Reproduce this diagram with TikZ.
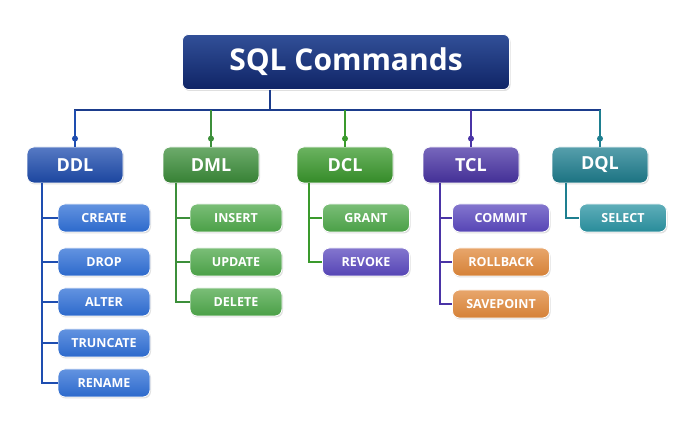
\documentclass[tikz,border=0pt]{standalone}
\usepackage{fontspec}
\setmainfont{Open Sans}
\usetikzlibrary{shadows}
\definecolor{navy}{HTML}{1B3C8C}
\definecolor{navyd}{HTML}{0F2466}
\definecolor{ddlc}{HTML}{1E4DB0}
\definecolor{ddlk}{HTML}{2F6FD6}
\definecolor{dmlc}{HTML}{3C8F3A}
\definecolor{dmlk}{HTML}{4EA84A}
\definecolor{dclc}{HTML}{3A9A2C}
\definecolor{tclc}{HTML}{4A34A6}
\definecolor{tclk}{HTML}{5A48BE}
\definecolor{orng}{HTML}{E0883A}
\definecolor{dqlc}{HTML}{1E7F90}
\definecolor{dqlk}{HTML}{2A93A2}
\tikzset{
 box/.style={rounded corners=7pt, draw=white, line width=0.8pt, text=white, font=\bfseries, inner sep=0pt, drop shadow={opacity=0.25,shadow xshift=1pt,shadow yshift=-1.5pt}},
 cat/.style n args={1}{box, minimum width=96pt, minimum height=36pt, font=\bfseries\fontsize{18}{18}\selectfont, top color=#1!75!white, bottom color=#1!90!black},
 kid/.style n args={1}{box, minimum width=92pt, minimum height=28pt, font=\bfseries\fontsize{12.5}{12.5}\selectfont, top color=#1!75!white, bottom color=#1!95!black},
 lnk/.style={line width=1.1pt, draw=#1},
 dot/.style={circle, fill=#1, inner sep=0pt, minimum size=6pt}
}
\begin{document}
\begin{tikzpicture}[x=1pt,y=-1pt]
\useasboundingbox[fill=white] (0,0) rectangle (697,422);
\node[box, rounded corners=6pt, minimum width=327pt, minimum height=55pt, top color=navy!90!white, bottom color=navyd, font=\bfseries\fontsize{30}{30}\selectfont] (title) at (346,62) {SQL Commands};
\node[cat=ddlc] (ddl) at (75,165) {DDL};
\node[cat=dmlc] (dml) at (211,165) {DML};
\node[cat=dclc] (dcl) at (345,165) {DCL};
\node[cat=tclc] (tcl) at (471,165) {TCL};
\node[cat=dqlc] (dql) at (600,165) {DQL};
\coordinate (bus) at (270,90);
\draw[lnk=navy] (bus) -- ++(0,20) -| (ddl.north);
\draw[lnk=navy] (bus) -- ++(0,20) -| (dql.north);
\foreach \c/\k in {ddl/ddlc,dml/dmlc,dcl/dclc,tcl/tclc,dql/dqlc}{
  \draw[lnk=\k] (\c.north) -- ++(0,-37);
  \node[dot=\k] at ([yshift=8pt]\c.north) {};
}
\node[kid=ddlk] (create) at (104,218) {CREATE};
\node[kid=ddlk] (drop) at (104,262) {DROP};
\node[kid=ddlk] (alter) at (104,302) {ALTER};
\node[kid=ddlk] (trunc) at (104,343) {TRUNCATE};
\node[kid=ddlk] (rename) at (104,383) {RENAME};
\node[kid=dmlk] (insert) at (236,218) {INSERT};
\node[kid=dmlk] (update) at (236,262) {UPDATE};
\node[kid=dmlk] (delete) at (236,302) {DELETE};
\node[kid=dmlk, minimum width=87pt] (grant) at (366,218) {GRANT};
\node[kid=tclk, minimum width=87pt] (revoke) at (366,262) {REVOKE};
\node[kid=tclk, minimum width=97pt] (commit) at (501,218) {COMMIT};
\node[kid=orng, minimum width=97pt] (rollback) at (501,262) {ROLLBACK};
\node[kid=orng, minimum width=97pt] (savepoint) at (501,304) {SAVEPOINT};
\node[kid=dqlk, minimum width=87pt] (select) at (623,218) {SELECT};
\coordinate (tddl) at (42,183);
\coordinate (tdml) at (176,183);
\coordinate (tdcl) at (309,183);
\coordinate (ttcl) at (440,183);
\coordinate (tdql) at (566,183);
\foreach \n in {create,drop,alter,trunc,rename}{\draw[lnk=ddlc] (tddl) |- (\n.west);}
\foreach \n in {insert,update,delete}{\draw[lnk=dmlc] (tdml) |- (\n.west);}
\foreach \n in {grant,revoke}{\draw[lnk=dclc] (tdcl) |- (\n.west);}
\foreach \n in {commit,rollback,savepoint}{\draw[lnk=tclc] (ttcl) |- (\n.west);}
\draw[lnk=dqlc] (tdql) |- (select.west);
\end{tikzpicture}
\end{document}
